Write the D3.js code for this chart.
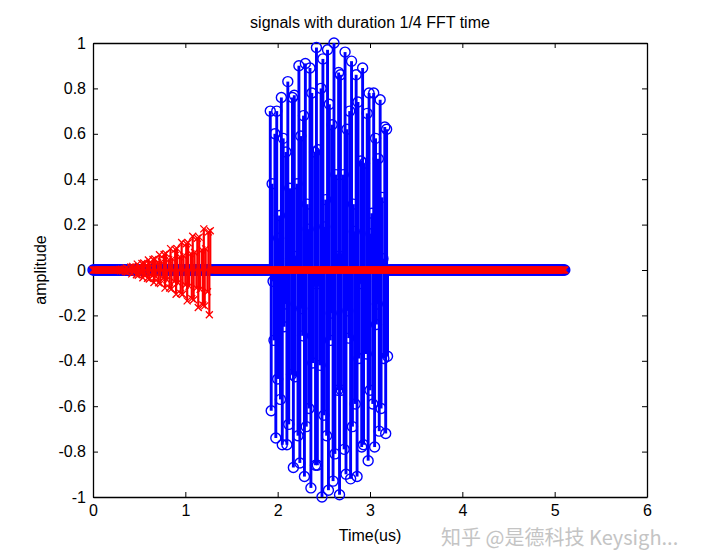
<!DOCTYPE html>
<html lang="en">
<head>
    <meta charset="UTF-8">
    <title>signals with duration 1/4 FFT time</title>
    <style>
        body {
            margin: 0;
            padding: 0;
            background: #fff;
        }
        svg text {
            font-family: "Liberation Sans", Arial, sans-serif;
            fill: #000;
        }
        .axis path, .axis line {
            stroke: #000;
        }
        .watermark {
            font-family: "Noto Sans CJK SC", sans-serif !important;
            fill: #c4c4c4 !important;
        }
    </style>
</head>
<body>
    <div id="chart"></div>

    <script src="https://d3js.org/d3.v7.min.js"></script>
    <script>
        // sample grid (us)
        const sampleStep = 0.01;
        const sampleCount = 512;

        // blue signal: pulse starting at sample 192 (1.92 us), zero elsewhere
        const bluePulseStart = 192;
        const bluePulse = [
            0.70, -0.62, 0.38, -0.05, -0.31, 0.60, -0.74, 0.70, -0.48, 0.14,
            0.24, -0.57, 0.76, -0.77, 0.58, -0.25, -0.15, 0.52, -0.77, 0.83,
            -0.68, 0.36, 0.05, -0.46, 0.76, -0.87, 0.77, -0.47, 0.06, 0.38,
            -0.73, 0.90, -0.85, 0.59, -0.17, -0.29, 0.68, -0.91, 0.91, -0.69,
            0.29, 0.18, -0.61, 0.89, -0.96, 0.78, -0.41, -0.06, 0.52, -0.86,
            0.98, -0.86, 0.53, -0.06, -0.42, 0.80, -1.00, 0.93, -0.64, 0.19,
            0.31, -0.73, 0.97, -0.97, 0.73, -0.31, -0.19, 0.64, -0.93, 1.00,
            -0.81, 0.42, 0.06, -0.53, 0.87, -0.99, 0.86, -0.53, 0.06, 0.42,
            -0.79, 0.96, -0.90, 0.62, -0.18, -0.30, 0.70, -0.92, 0.92, -0.69,
            0.29, 0.17, -0.59, 0.86, -0.91, 0.74, -0.39, -0.06, 0.48, -0.78,
            0.89, -0.77, 0.47, -0.05, -0.37, 0.69, -0.84, 0.78, -0.53, 0.16,
            0.25, -0.59, 0.78, -0.78, 0.58, -0.24, -0.15, 0.49, -0.71, 0.75,
            -0.61, 0.32, 0.05, -0.39, 0.63, -0.72, 0.62, -0.38
        ];

        // red signal: growing pulse at the start, zero elsewhere
        const redPulseStart = 0;
        const redPulse = [
            0, 0, 0, 0, 0, 0, 0, 0, 0, 0, 0, 0, 0, 0, 0, 0, 0, 0, 0, 0, 0, 0, 0, 0, 0,
            0, 0.001, 0, -0.001, 0.002, -0.003, 0.003, -0.003, 0, 0.004, -0.007,
            0.009, -0.009, 0.006, 0, -0.007, 0.013, -0.017, 0.016, -0.010, 0, 0.012, -0.021,
            0.026, -0.023, 0.015, 0, -0.016, 0.029, -0.034, 0.031, -0.019, 0, 0.021, -0.036,
            0.044, -0.040, 0.024, 0, -0.026, 0.046, -0.055, 0.049, -0.030, 0, 0.032, -0.056,
            0.067, -0.060, 0.036, 0, -0.038, 0.068, -0.080, 0.072, -0.043, 0, 0.045, -0.079,
            0.094, -0.083, 0.049, 0, -0.051, 0.091, -0.107, 0.094, -0.056, 0, 0.058, -0.103,
            0.121, -0.107, 0.063, 0, -0.066, 0.116, -0.136, 0.120, -0.071, 0, 0.072, -0.126,
            0.149, -0.131, 0.077, 0, -0.080, 0.140, -0.165, 0.145, -0.085, 0, 0.088, -0.154,
            0.181, -0.158, 0.093, 0, -0.096, 0.168, -0.197, 0.173
        ];

        const xTicks = [0, 1, 2, 3, 4, 5, 6];
        const yTicks = [-1, -0.8, -0.6, -0.4, -0.2, 0, 0.2, 0.4, 0.6, 0.8, 1];

        const width = 713, height = 557;
        const margin = { top: 43, right: 66, bottom: 60, left: 93 };

        const svg = d3.select("#chart").append("svg")
            .attr("width", width)
            .attr("height", height);

        const x = d3.scaleLinear().domain([0, 6]).range([margin.left, width - margin.right]);
        const y = d3.scaleLinear().domain([-1, 1]).range([height - margin.bottom, margin.top]);

        function series(pulse, start) {
            return d3.range(sampleCount).map(i => {
                const k = i - start;
                return { t: i * sampleStep, v: (k >= 0 && k < pulse.length) ? pulse[k] : 0 };
            });
        }
        const blue = series(bluePulse, bluePulseStart);
        const red = series(redPulse, redPulseStart);

        // axes (matlab box, ticks inward), plain hyphen for negatives
        const tickLen = 5;
        const fmt = d => String(+d.toFixed(1));
        svg.append("g").attr("class", "axis")
            .attr("transform", `translate(0,${y(-1)})`)
            .call(d3.axisBottom(x).tickValues(xTicks).tickSizeInner(-tickLen).tickSizeOuter(0).tickPadding(8).tickFormat(fmt))
            .call(g => g.selectAll("text").attr("font-size", 16));
        svg.append("g").attr("class", "axis")
            .attr("transform", `translate(0,${y(1)})`)
            .call(d3.axisTop(x).tickValues(xTicks).tickSizeInner(-tickLen).tickSizeOuter(0).tickFormat(""));
        svg.append("g").attr("class", "axis")
            .attr("transform", `translate(${x(0)},0)`)
            .call(d3.axisLeft(y).tickValues(yTicks).tickSizeInner(-tickLen).tickSizeOuter(0).tickPadding(7).tickFormat(fmt))
            .call(g => g.selectAll("text").attr("font-size", 16));
        svg.append("g").attr("class", "axis")
            .attr("transform", `translate(${x(6)},0)`)
            .call(d3.axisRight(y).tickValues(yTicks).tickSizeInner(-tickLen).tickSizeOuter(0).tickFormat(""));
        svg.selectAll(".axis .domain").attr("stroke-width", 1.3);

        function drawStems(data, color, marker, stemWidth) {
            const g = svg.append("g");
            g.selectAll("line.stem")
                .data(data.filter(d => d.v !== 0))
                .enter().append("line")
                .attr("class", "stem")
                .attr("x1", d => x(d.t)).attr("x2", d => x(d.t))
                .attr("y1", y(0)).attr("y2", d => y(d.v))
                .attr("stroke", color)
                .attr("stroke-width", stemWidth);

            if (marker === "o") {
                g.selectAll("circle")
                    .data(data)
                    .enter().append("circle")
                    .attr("cx", d => x(d.t))
                    .attr("cy", d => y(d.v))
                    .attr("r", 5)
                    .attr("fill", "none")
                    .attr("stroke", color)
                    .attr("stroke-width", 1.4);
            } else {
                const s = 3.5;
                g.selectAll("path.mk")
                    .data(data)
                    .enter().append("path")
                    .attr("class", "mk")
                    .attr("d", d => {
                        const cx = x(d.t), cy = y(d.v);
                        return `M${cx - s},${cy - s}L${cx + s},${cy + s}M${cx - s},${cy + s}L${cx + s},${cy - s}`;
                    })
                    .attr("stroke", color)
                    .attr("stroke-width", 1.3);
            }

            // baseline
            g.append("line")
                .attr("x1", x(data[0].t)).attr("x2", x(data[data.length - 1].t))
                .attr("y1", y(0)).attr("y2", y(0))
                .attr("stroke", color)
                .attr("stroke-width", 2);
        }

        drawStems(blue, "#0000ff", "o", 2.9);
        drawStems(red, "#ff0000", "x", 2.2);

        // labels
        svg.append("text")
            .attr("x", (x(0) + x(6)) / 2)
            .attr("y", 28)
            .attr("text-anchor", "middle")
            .attr("font-size", 16)
            .text("signals with duration 1/4 FFT time");

        svg.append("text")
            .attr("x", (x(0) + x(6)) / 2)
            .attr("y", 541)
            .attr("text-anchor", "middle")
            .attr("font-size", 16)
            .text("Time(us)");

        svg.append("text")
            .attr("transform", `translate(46,${y(0)}) rotate(-90)`)
            .attr("text-anchor", "middle")
            .attr("font-size", 16)
            .text("amplitude");

        // watermark
        svg.append("text")
            .attr("class", "watermark")
            .attr("x", 441)
            .attr("y", 545)
            .attr("font-size", 20)
            .text("知乎 @是德科技 Keysigh...");
    </script>
</body>
</html>
